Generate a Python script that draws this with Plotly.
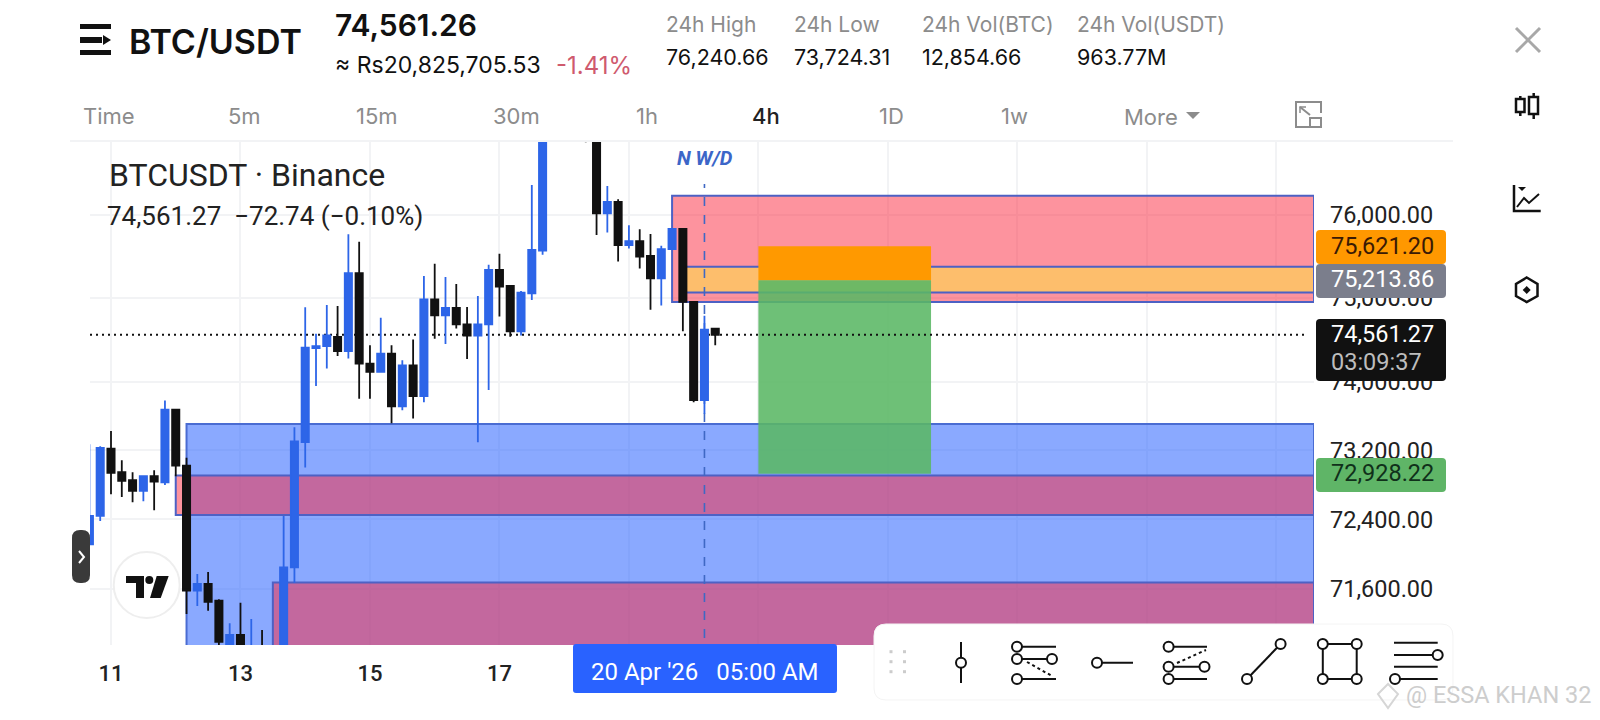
import math
import pandas as pd
import plotly.graph_objects as go

# 4h candles, oldest first
opens = [72110, 72439, 73220, 72945, 72852, 72728, 72899, 72829, 73678, 73022, 71581, 71657,
         71467, 70950, 71076, 70850, 70930, 70850, 70880, 71848, 73297, 74404, 74428, 74537,
         74369, 75297, 74220, 74122, 74338, 73717, 74200, 73837, 74984, 74792, 74882, 74686,
         74553, 74686, 75337, 75145, 74604, 75056, 75570, 77000, 77250, 77100, 77200, 77050,
         76020, 76158, 75635, 75683, 75506, 75237, 75586, 75831, 74953, 73789, 74634.01]
highs = [73272, 73248, 73427, 73084, 72945, 72899, 72968, 73785, 73686, 73115, 71771, 71794,
         71482, 71209, 71444, 71258, 71133, 70950, 72439, 73471, 74890, 74573, 74918, 74906,
         75767, 75675, 74436, 74765, 74436, 74259, 74506, 75265, 75410, 75253, 75169, 74894,
         75024, 75398, 75530, 75145, 75084, 76365, 77100, 77400, 77450, 77400, 77500, 77200,
         76352, 76190, 75875, 75827, 75771, 75627, 75831, 75839, 74953, 74788, 74640]
lows = [72100, 72381, 72690, 72659, 72597, 72609, 72504, 72798, 72899, 71315, 71406, 71353,
        70960, 70900, 70850, 70800, 70780, 70750, 70800, 71672, 72999, 73956, 74161, 74310,
        74279, 73805, 73805, 74122, 73518, 73670, 73574, 73765, 74514, 74451, 74635, 74275,
        73296, 73908, 74780, 74537, 74553, 74976, 75518, 76950, 76895, 76950, 76887, 75759,
        75787, 75438, 75594, 75353, 74859, 74910, 75586, 74604, 73765, 73630, 74436]
closes = [72439, 73228, 72937, 72844, 72728, 72899, 72837, 73678, 73022, 71581, 71657, 71452,
          71000, 71076, 70900, 70940, 70850, 70900, 71848, 73304, 74408, 74428, 74553, 74369,
          75297, 74220, 74122, 74338, 73717, 74200, 73837, 74984, 74792, 74882, 74686, 74553,
          74686, 75337, 75137, 74604, 75064, 75578, 77000, 77250, 77100, 77200, 77050, 76020,
          76158, 75635, 75683, 75498, 75237, 75586, 75831, 74953, 73789, 74624, 74561.27]
candle_times = pd.date_range("2026-04-10 17:00", periods=len(opens), freq="4h")

# axis ticks
price_ticks = [76000, 75000, 74000, 73200, 72400, 71600]
price_labels = ["76,000.00", "75,000.00", "74,000.00", "73,200.00", "72,400.00", "71,600.00"]
day_ticks = ["2026-04-%02d 01:00" % d for d in range(11, 30, 2)]
day_labels = ["11", "13", "15", "17", "", "", "", "", "", ""]

# drawn zones
last_price = 74561.27
entry_top = 75621.20
entry_price = 75213.86
target_price = 72928.22
red_zone = [76234, 74953]
orange_zone = [75376, 75067]
blue_zone = [73509, 70000]
band_a = [72908, 72450]
band_b = [71673, 70000]

# header numbers
stat_names = ["24h High", "24h Low", "24h Vol(BTC)", "24h Vol(USDT)"]
stat_values = ["76,240.66", "73,724.31", "12,854.66", "963.77M"]
stat_x = [665, 793, 921, 1076]
timeframes = ["Time", "5m", "15m", "30m", "1h", "4h", "1D", "1w"]
timeframe_x = [109, 244, 377, 516, 647, 766, 891, 1014]

W, H = 1600, 720
FONT = "Roboto"
HEAD_FONT = "Inter"
X_START, X_END = "2026-04-10 17:13", "2026-04-29 14:58"
BLUE = "#2d65e8"
BLACK = "#111111"
EDGE = "#4d61c4"

shapes = []
annotations = []


def px(x):
    return x / W


def py(y):
    return 1 - y / H


# --------------------------------------------------------------------
#  helpers, everything here is in screen pixels
# --------------------------------------------------------------------
def text(x, y, s, size=20, color="#111111", anchor="left", weight=400, family=FONT):
    annotations.append(dict(
        x=px(x), y=py(y), xref="paper", yref="paper", text=s, showarrow=False,
        xanchor=anchor, yanchor="middle", borderpad=0,
        font=dict(family=family, size=size, color=color, weight=weight)
    ))


def line(x0, y0, x1, y1, color="#111111", width=2, dash="solid"):
    shapes.append(dict(
        type="line", xref="paper", yref="paper", x0=px(x0), y0=py(y0), x1=px(x1), y1=py(y1),
        line=dict(color=color, width=width, dash=dash)
    ))


def dot(x, y, r=5, fill="white", color="#111111", width=2):
    shapes.append(dict(
        type="circle", xref="paper", yref="paper", x0=px(x - r), y0=py(y - r), x1=px(x + r), y1=py(y + r),
        fillcolor=fill, line=dict(color=color, width=width)
    ))


def box(x0, y0, x1, y1, fill="rgba(0,0,0,0)", color="#111111", width=2):
    shapes.append(dict(
        type="rect", xref="paper", yref="paper", x0=px(x0), y0=py(y0), x1=px(x1), y1=py(y1),
        fillcolor=fill, line=dict(color=color, width=width)
    ))


def poly(points, fill="rgba(0,0,0,0)", color="rgba(0,0,0,0)", width=0, closed=True):
    d = "M " + " L ".join("%.5f,%.5f" % (px(x), py(y)) for x, y in points)
    if closed:
        d += " Z"
    shapes.append(dict(type="path", xref="paper", yref="paper", path=d, fillcolor=fill,
                       line=dict(color=color, width=width)))


def round_box(x0, y0, x1, y1, r, fill, color="rgba(0,0,0,0)", width=0):
    def p(x, y):
        return "%.5f,%.5f" % (px(x), py(y))
    d = (f"M {p(x0 + r, y0)} L {p(x1 - r, y0)} Q {p(x1, y0)} {p(x1, y0 + r)} "
         f"L {p(x1, y1 - r)} Q {p(x1, y1)} {p(x1 - r, y1)} "
         f"L {p(x0 + r, y1)} Q {p(x0, y1)} {p(x0, y1 - r)} "
         f"L {p(x0, y0 + r)} Q {p(x0, y0)} {p(x0 + r, y0)} Z")
    shapes.append(dict(type="path", xref="paper", yref="paper", path=d, fillcolor=fill,
                       line=dict(color=color, width=width)))


def zone(t0, t1, top, bottom, fill, edge=EDGE, width=2):
    shapes.append(dict(
        type="rect", xref="x", yref="y", layer="between", x0=t0, x1=t1, y0=bottom, y1=top,
        fillcolor=fill, line=dict(color=edge, width=width)
    ))


# --------------------------------------------------------------------
#  zones behind the candles
# --------------------------------------------------------------------
PINK = "rgba(251,40,62,0.5)"
zone("2026-04-12 05:00", X_END, blue_zone[0], blue_zone[1], "rgba(41,98,255,0.55)", edge="#4a6cd2")
zone("2026-04-12 01:00", X_END, band_a[0], band_a[1], PINK)
zone("2026-04-13 13:00", X_END, band_b[0], band_b[1], PINK)
zone("2026-04-19 17:00", X_END, red_zone[0], red_zone[1], PINK)
zone("2026-04-19 21:00", X_END, orange_zone[0], orange_zone[1], "#fdbe6c")

# marker line of the new week/day
shapes.append(dict(type="line", xref="x", yref="y", layer="between",
                   x0="2026-04-20 05:00", x1="2026-04-20 05:00", y0=71043, y1=76377,
                   line=dict(color="#3f68c4", width=1.6, dash="dash")))

# short position tool
zone("2026-04-21 01:00", "2026-04-23 17:00", entry_top, entry_price, "#ff9900", edge="#ff9900", width=0)
zone("2026-04-21 01:00", "2026-04-23 17:00", entry_price, target_price, "rgba(90,183,100,0.88)", edge="rgba(0,0,0,0)", width=0)

# last price line
shapes.append(dict(type="line", xref="x", yref="y", layer="between",
                   x0=X_START, x1="2026-04-29 12:00", y0=last_price, y1=last_price,
                   line=dict(color="#111111", width=2, dash="2px,4px")))

fig = go.Figure(go.Candlestick(
    x=candle_times, open=opens, high=highs, low=lows, close=closes,
    increasing=dict(line=dict(color=BLUE, width=1.8), fillcolor=BLUE),
    decreasing=dict(line=dict(color=BLACK, width=1.8), fillcolor=BLACK),
    whiskerwidth=0, showlegend=False, hoverinfo="skip"
))

# --------------------------------------------------------------------
#  header
# --------------------------------------------------------------------
box(80, 24, 111, 29, fill=BLACK, width=0)
box(80, 37, 102, 43, fill=BLACK, width=0)
box(80, 50, 111, 55, fill=BLACK, width=0)
poly([(103, 35), (111, 40), (103, 45)], fill=BLACK)
text(128, 41, "BTC/USDT", size=34, weight=600, family=HEAD_FONT)
text(334, 25, "74,561.26", size=30, weight=600, family=HEAD_FONT)
text(334, 65, "≈ Rs20,825,705.53", size=23, family=HEAD_FONT)
text(555, 65, "-1.41%", size=24, color="#cf5a6e", family=HEAD_FONT)
for name, value, x in zip(stat_names, stat_values, stat_x):
    text(x, 25, name, size=21, color="#8c8c8c", family=HEAD_FONT)
    text(x, 57, value, size=21.5, family=HEAD_FONT)

# close button and side icons
line(1516, 28, 1540, 52, color="#a8a8a8", width=3)
line(1516, 52, 1540, 28, color="#a8a8a8", width=3)
line(1520.3, 96, 1520.3, 116, width=2.5)
box(1516, 99, 1524.5, 112, fill="white", width=2.5)
line(1533.7, 93, 1533.7, 119, width=2.5)
box(1529, 97, 1538, 114, fill="white", width=2.5)
poly([(1514, 185), (1514, 211), (1540.7, 211)], width=2.5, color=BLACK, closed=False)
poly([(1518, 187), (1526, 187), (1522, 191)], fill=BLACK)
poly([(1517, 207), (1524, 198), (1529, 203), (1539, 194)], width=2, color=BLACK, closed=False)
poly([(1526.7, 277.5), (1537.5, 284), (1537.5, 296), (1526.7, 302), (1516, 296), (1516, 284)],
     width=2.5, color=BLACK)
poly([(1526.7, 286), (1530.7, 290), (1526.7, 294), (1522.7, 290)], fill=BLACK)

# timeframe row
for name, x in zip(timeframes, timeframe_x):
    if name == "4h":
        text(x, 116, name, size=22, color="#222222", anchor="center", weight=500, family=HEAD_FONT)
    else:
        text(x, 116, name, size=22, color="#8c8c8c", anchor="center", family=HEAD_FONT)
text(1123, 117, "More", size=22, color="#8c8c8c", family=HEAD_FONT)
poly([(1186, 112), (1200, 112), (1193, 119)], fill="#8c8c8c")
poly([(1310, 127), (1296, 127), (1296, 102), (1321, 102), (1321, 113)], color="#8c8c8c", width=2, closed=False)
box(1310, 118, 1321, 127, color="#8c8c8c", width=2)
line(1300, 107, 1310, 115, color="#8c8c8c", width=2)
poly([(1300, 113), (1300, 107), (1306, 107)], color="#8c8c8c", width=1.5, closed=False)
line(70, 141, 1453, 141, color="#f2f3f5", width=2)

# --------------------------------------------------------------------
#  overlay on the chart
# --------------------------------------------------------------------
text(108, 175, "BTCUSDT · Binance", size=32, color="#222222")
text(106, 216, "74,561.27&nbsp;&nbsp;−72.74 (−0.10%)", size=26, color="#222222")
text(705, 158, "<i>N W/D</i>", size=20, color="#3c66c8", anchor="center", weight=700)

# price tags on the scale
round_box(1316, 230, 1446, 264, 4, "#ff9800")
text(1330, 246, "75,621.20", size=23.5, color="#3a1a05")
round_box(1316, 264, 1446, 298, 4, "#7b7e8c")
text(1330, 279, "75,213.86", size=23.5, color="white")
round_box(1316, 319, 1446, 381, 4, BLACK)
text(1330, 334, "74,561.27", size=23.5, color="white")
text(1330, 362, "03:09:37", size=23.5, color="#bdbdbd")
round_box(1316, 458, 1446, 492, 4, "#5fb567")
text(1330, 473, "72,928.22", size=23.5, color="#10301a")

# side handle and tradingview logo
round_box(72, 530, 90, 583, 8, "#3a3a3a")
poly([(79, 551), (84, 557), (79, 563)], color="white", width=2, closed=False)
dot(146.7, 585, r=33, fill="white", color="#eeeeee", width=2)
poly([(126, 576), (144, 576), (144, 598), (136, 598), (136, 583), (126, 583)], fill=BLACK)
dot(149.3, 580, r=4, fill=BLACK, color=BLACK, width=0)
poly([(156.7, 576), (168.7, 576), (160.7, 598), (150, 598)], fill=BLACK)

# crosshair date badge
round_box(573, 644, 837, 693, 3, "#2962ff")
text(705, 672, "20 Apr '26&nbsp;&nbsp;&nbsp;05:00 AM", size=24, color="white", anchor="center")

# --------------------------------------------------------------------
#  floating drawing toolbar
# --------------------------------------------------------------------
round_box(874, 624, 1453, 700, 12, "white", color="#f4f4f4", width=1)
for gx in (891, 904.5):
    for gy in (651.7, 661.7, 671.7):
        box(gx - 1.5, gy - 1.5, gx + 1.5, gy + 1.5, fill="#cccccc", width=0)

line(961, 642, 961, 683)
dot(961, 662.7)

line(1017, 646.7, 1056, 646.7)
line(1017, 659, 1052, 659)
line(1017, 679, 1056, 679)
line(1027, 662, 1052, 676, dash="dot")
dot(1017, 646.7)
dot(1017, 659)
dot(1052, 659)
dot(1017, 679)

line(1097, 662.7, 1133, 662.7)
dot(1097, 662.7)

line(1168.6, 646.7, 1207, 646.7)
line(1168.6, 666.7, 1204.5, 666.7)
line(1168.6, 679, 1207, 679)
line(1177, 663, 1206, 650, dash="dot")
dot(1168.6, 646.7)
dot(1168.6, 666.7)
dot(1204.5, 666.7)
dot(1168.6, 679)

line(1247, 679, 1280.6, 644)
dot(1247, 679)
dot(1280.6, 644)

box(1322.8, 644, 1356.7, 679)
for cx, cy in [(1322.8, 644), (1356.7, 644), (1322.8, 679), (1356.7, 679)]:
    dot(cx, cy)

for ly in (642.7, 655, 666.7, 679):
    line(1394, ly, 1437.7, ly)
dot(1437.7, 655)
dot(1395, 679)

# watermark
poly([(1378, 694), (1388, 684), (1398, 694), (1388, 708)], color="#d6d6d6", width=2)
text(1405, 695, "@ ESSA KHAN 32", size=23.5, color="#cdcdcd")

# --------------------------------------------------------------------
#  axes
# --------------------------------------------------------------------
fig.update_layout(
    width=W, height=H,
    margin=dict(l=0, r=0, t=0, b=0),
    paper_bgcolor="white", plot_bgcolor="white",
    boxgap=0.33, boxgroupgap=0,
    shapes=shapes, annotations=annotations,
    font=dict(family=FONT, color="#222222"),
    showlegend=False,
    xaxis=dict(
        domain=[px(90), px(1314)], type="date",
        range=[X_START, X_END], rangeslider=dict(visible=False),
        tickmode="array", tickvals=day_ticks, ticktext=day_labels,
        tickfont=dict(family=FONT, size=22, color="#222222", weight=500),
        ticklabelstandoff=13,
        showgrid=True, gridcolor="#f2f3f5", gridwidth=1.5,
        showline=False, zeroline=False, ticks=""
    ),
    yaxis=dict(
        domain=[py(645), py(140)], type="log", side="right",
        range=[math.log10(70963), math.log10(76914)],
        tickmode="array", tickvals=price_ticks, ticktext=price_labels,
        tickfont=dict(family=FONT, size=23.5, color="#222222"),
        ticklabelstandoff=15,
        showgrid=True, gridcolor="#f2f3f5", gridwidth=1.5,
        showline=False, zeroline=False, ticks=""
    )
)

# the page has a default body margin, the figure has to sit at 0,0
fig.write_html("out.html", config={"displayModeBar": False},
               post_script="document.body.style.margin='0';")
